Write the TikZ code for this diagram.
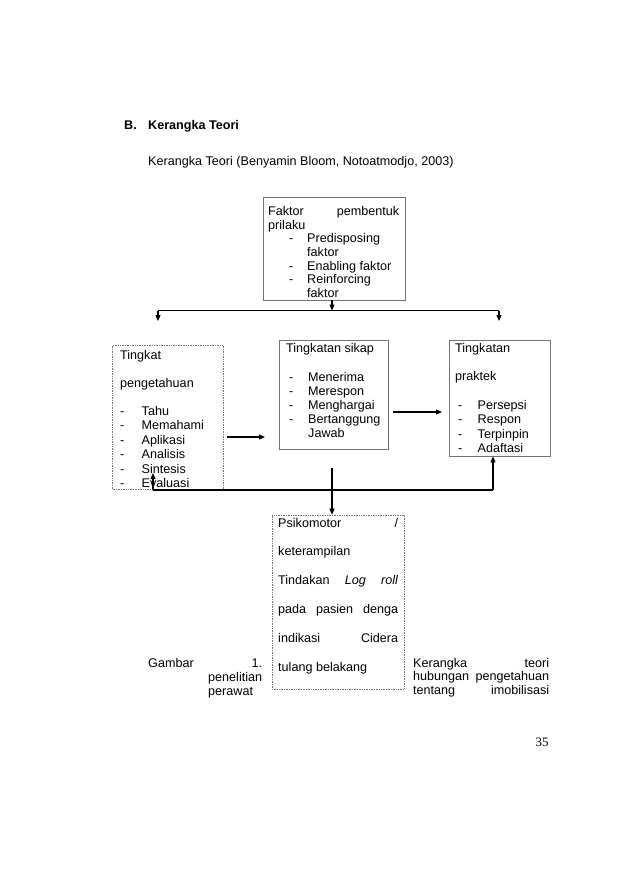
\documentclass[tikz,border=0pt]{standalone}
\usepackage{fontspec}
\setmainfont{Liberation Sans}
\newfontfamily\seriffont{Liberation Serif}
\usetikzlibrary{arrows.meta}
\begin{document}
\begin{tikzpicture}[x=1pt,y=-1pt,
  txt/.style={anchor=base west, inner sep=0pt, font=\fontsize{12.6}{15}\selectfont},
  boxsolid/.style={draw=black!55, line width=0.8pt, inner sep=0pt},
  boxdot/.style={draw=black!55, line width=0.7pt, densely dotted, inner sep=0pt},
  conn/.style={draw=black, line width=1.1pt},
  arr/.style={conn, -{Triangle[length=6pt,width=5pt]}}]
\useasboundingbox[fill=white] (0,0) rectangle (639,882);

% heading
\node[txt, font=\fontsize{12.6}{15}\selectfont\bfseries] (hb) at (124,130) {B.};
\node[txt, font=\fontsize{12.6}{15}\selectfont\bfseries] (ht) at (148,130) {Kerangka Teori};
\node[txt] (sub) at (148,166) {Kerangka Teori (Benyamin Bloom, Notoatmodjo, 2003)};

% boxes
\node[boxsolid, minimum width=142pt, minimum height=103pt] (faktor) at (334,248.5) {};
\node[boxdot, minimum width=110.5pt, minimum height=144pt] (tingkat) at (167.75,417) {};
\node[boxsolid, minimum width=109pt, minimum height=109pt] (sikap) at (333.5,394.5) {};
\node[boxsolid, minimum width=101pt, minimum height=116pt] (praktek) at (499.5,398) {};
\node[boxdot, minimum width=132pt, minimum height=174pt] (psiko) at (338,602) {};

% faktor text
\node[txt] (f1) at (268,216) {\makebox[131pt][s]{Faktor pembentuk}};
\node[txt] (f2) at (268,229.5) {prilaku};
\node[txt] (f3d) at (289,243) {-};
\node[txt] (f3) at (307,243) {Predisposing};
\node[txt] (f4) at (307,256.5) {faktor};
\node[txt] (f5d) at (289,270) {-};
\node[txt] (f5) at (307,270) {Enabling faktor};
\node[txt] (f6d) at (289,283.5) {-};
\node[txt] (f6) at (307,283.5) {Reinforcing};
\node[txt] (f7) at (307,297) {faktor};

% tingkat text
\node[txt] (t1) at (120,359) {Tingkat};
\node[txt] (t2) at (120,387) {pengetahuan};
\foreach \w [count=\i] in {Tahu,Memahami,Aplikasi,Analisis,Sintesis,Evaluasi}{
  \node[txt] (td\i) at (120,{401+14.4*\i}) {-};
  \node[txt] (tw\i) at (141.5,{401+14.4*\i}) {\w};
}

% sikap text
\node[txt] (s1) at (286,352) {Tingkatan sikap};
\foreach \w [count=\i] in {Menerima,Merespon,Menghargai,Bertanggung}{
  \node[txt] (sd\i) at (289,{367.5+14*\i}) {-};
  \node[txt] (sw\i) at (308,{367.5+14*\i}) {\w};
}
\node[txt] (s6) at (308,437.5) {Jawab};

% praktek text
\node[txt] (p1) at (455,352.5) {Tingkatan};
\node[txt] (p2) at (455,380.5) {praktek};
\foreach \w [count=\i] in {Persepsi,Respon,Terpinpin,Adaftasi}{
  \node[txt] (pd\i) at (458,{395.5+14.2*\i}) {-};
  \node[txt] (pw\i) at (477.5,{395.5+14.2*\i}) {\w};
}

% psikomotor text
\node[txt] (k1) at (278,527) {\makebox[120pt][s]{Psikomotor /}};
\node[txt] (k2) at (278,555.5) {keterampilan};
\node[txt] (k3) at (278,584) {\makebox[120pt][s]{Tindakan \textit{Log} \textit{roll}}};
\node[txt] (k4) at (278,613) {\makebox[120pt][s]{pada pasien denga}};
\node[txt] (k5) at (278,642) {\makebox[120pt][s]{indikasi Cidera}};
\node[txt] (k6) at (278,671) {tulang belakang};

% caption
\node[txt] (c1) at (148,667) {\makebox[114pt][s]{Gambar 1.}};
\node[txt] (c2) at (208,681) {penelitian};
\node[txt] (c3) at (208,695) {perawat};
\node[txt] (c4) at (413,667) {\makebox[136pt][s]{Kerangka teori}};
\node[txt] (c5) at (413,680.5) {\makebox[136pt][s]{hubungan pengetahuan}};
\node[txt] (c6) at (413,694) {\makebox[136pt][s]{tentang imobilisasi}};

% page number
\node[anchor=base west, inner sep=0pt, font=\seriffont\fontsize{12.9}{15}\selectfont] (pg) at (535.5,746) {35};

% connectors
\coordinate (fb) at (332,310.5);
\coordinate (hl) at (158,310.5);
\coordinate (hr) at (499,310.5);
\coordinate (hlb) at (158,321);
\coordinate (hrb) at (499,321);
\draw[arr] (faktor.south -| fb) -- (fb);
\draw[conn] (hl) -- (hr);
\draw[arr] (hl) -- (hlb);
\draw[arr] (hr) -- (hrb);

\coordinate (a1s) at (227,437);
\coordinate (a1e) at (265,437);
\draw[arr] (a1s) -- (a1e);
\coordinate (a2s) at (393,412);
\coordinate (a2e) at (442,412);
\draw[arr] (a2s) -- (a2e);

\coordinate (vs) at (332,468);
\draw[arr] (vs) -- (vs |- psiko.north);
\coordinate (bl) at (153,490);
\coordinate (br) at (493,490);
\coordinate (blt) at (153,473);
\draw[conn] (bl) -- (br);
\draw[arr] (bl) -- (blt);
\draw[arr] (br) -- (br |- praktek.south);
\end{tikzpicture}
\end{document}
